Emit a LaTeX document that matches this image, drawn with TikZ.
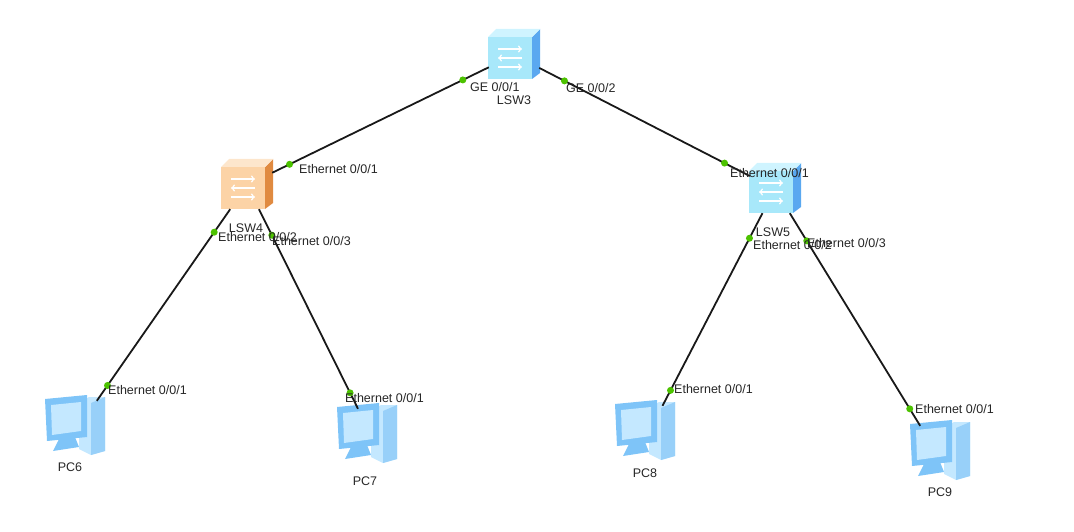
\documentclass[tikz,border=0pt]{standalone}
\usepackage{fontspec}
\setmainfont{Liberation Sans}
\begin{document}
\begin{tikzpicture}[x=1pt,y=-1pt,
  dev/.style={inner sep=0pt,minimum width=50pt,minimum height=48pt},
  lbl/.style={font=\fontsize{12.5}{14}\selectfont,text=black!85,inner sep=0pt},
  port/.style={lbl,anchor=west},
  link/.style={line width=1.8pt,black!90},
  dot/.style={circle,fill=green!60!black!60!lime,inner sep=0pt,minimum size=7pt}]
\useasboundingbox (0,0) rectangle (1074,532);
\definecolor{swf}{HTML}{A8E8FA}\definecolor{swr}{HTML}{5AA8F0}\definecolor{swt}{HTML}{CFF4FF}
\definecolor{of}{HTML}{FCD3A6}\definecolor{orr}{HTML}{E08A40}\definecolor{ot}{HTML}{FDE6CC}
\definecolor{pcb}{HTML}{7EC4F8}\definecolor{pcl}{HTML}{C4E8FF}
\newcommand{\swbox}[4]{% center, front, right, top
  \begin{scope}[shift={#1}]
  \fill[#3] (18,-18) -- (26,-26) -- (26,18) -- (18,24) -- cycle;
  \fill[#4] (-26,-18) -- (-18,-26) -- (26,-26) -- (18,-18) -- cycle;
  \fill[#2] (-26,-18) rectangle (18,24);
  \draw[white,line width=1.5pt,->] (-16,-6) -- (8,-6);
  \draw[white,line width=1.5pt,->] (8,3) -- (-16,3);
  \draw[white,line width=1.5pt,->] (-16,12) -- (8,12);
  \end{scope}}
\newcommand{\pcicon}[1]{%
  \begin{scope}[shift={#1}]
  \fill[pcl] (4,-22) -- (14,-28) -- (30,-28) -- (30,26) -- (16,30) -- (4,24) -- cycle;
  \fill[pcb!80] (16,-22) -- (30,-28) -- (30,26) -- (16,30) -- cycle;
  \fill[pcb] (-30,-26) -- (12,-30) -- (12,12) -- (-28,16) -- cycle;
  \fill[pcl] (-24,-20) -- (6,-23) -- (6,6) -- (-23,10) -- cycle;
  \fill[pcb] (-16,14) -- (0,12) -- (4,22) -- (-22,26) -- cycle;
  \end{scope}}
\swbox{(514,55)}{swf}{swr}{swt}
\swbox{(247,185)}{of}{orr}{ot}
\swbox{(775,189)}{swf}{swr}{swt}
\pcicon{(75,425)}\pcicon{(367,433)}\pcicon{(645,430)}\pcicon{(940,450)}
\node[dev] (lsw3) at (514,55) {};
\node[dev] (lsw4) at (247,185) {};
\node[dev] (lsw5) at (775,189) {};
\node[dev,minimum width=40pt] (pc6) at (80,425) {};
\node[dev,minimum width=40pt] (pc7) at (370,433) {};
\node[dev,minimum width=40pt] (pc8) at (650,430) {};
\node[dev,minimum width=40pt] (pc9) at (935,450) {};
\node[lbl] (t3) at (514,100) {LSW3};
\node[lbl] (t4) at (246,228) {LSW4};
\node[lbl] (t5) at (773,232) {LSW5};
\node[lbl] (t6) at (70,467) {PC6};
\node[lbl] (t7) at (365,481) {PC7};
\node[lbl] (t8) at (645,473) {PC8};
\node[lbl] (t9) at (940,492) {PC9};
\draw[link] (lsw3) -- node[pos=0.12,dot]{} node[pos=0.92,dot]{} (lsw4);
\draw[link] (lsw3) -- node[pos=0.12,dot]{} node[pos=0.88,dot]{} (lsw5);
\draw[link] (lsw4) -- node[pos=0.12,dot]{} node[pos=0.92,dot]{} (pc6);
\draw[link] (lsw4) -- node[pos=0.13,dot]{} node[pos=0.92,dot]{} (pc7);
\draw[link] (lsw5) -- node[pos=0.13,dot]{} node[pos=0.92,dot]{} (pc8);
\draw[link] (lsw5) -- node[pos=0.13,dot]{} node[pos=0.92,dot]{} (pc9);
\node[port] (p1) at (470,87) {GE 0/0/1};
\node[port] (p2) at (566,88) {GE 0/0/2};
\node[port] (p3) at (299,169) {Ethernet 0/0/1};
\node[port] (p4) at (730,173) {Ethernet 0/0/1};
\node[port] (p5) at (218,237) {Ethernet 0/0/2};
\node[port] (p6) at (272,241) {Ethernet 0/0/3};
\node[port] (p7) at (753,245) {Ethernet 0/0/2};
\node[port] (p8) at (807,243) {Ethernet 0/0/3};
\node[port] (p9) at (108,390) {Ethernet 0/0/1};
\node[port] (p10) at (345,398) {Ethernet 0/0/1};
\node[port] (p11) at (674,389) {Ethernet 0/0/1};
\node[port] (p12) at (915,409) {Ethernet 0/0/1};
\end{tikzpicture}
\end{document}
